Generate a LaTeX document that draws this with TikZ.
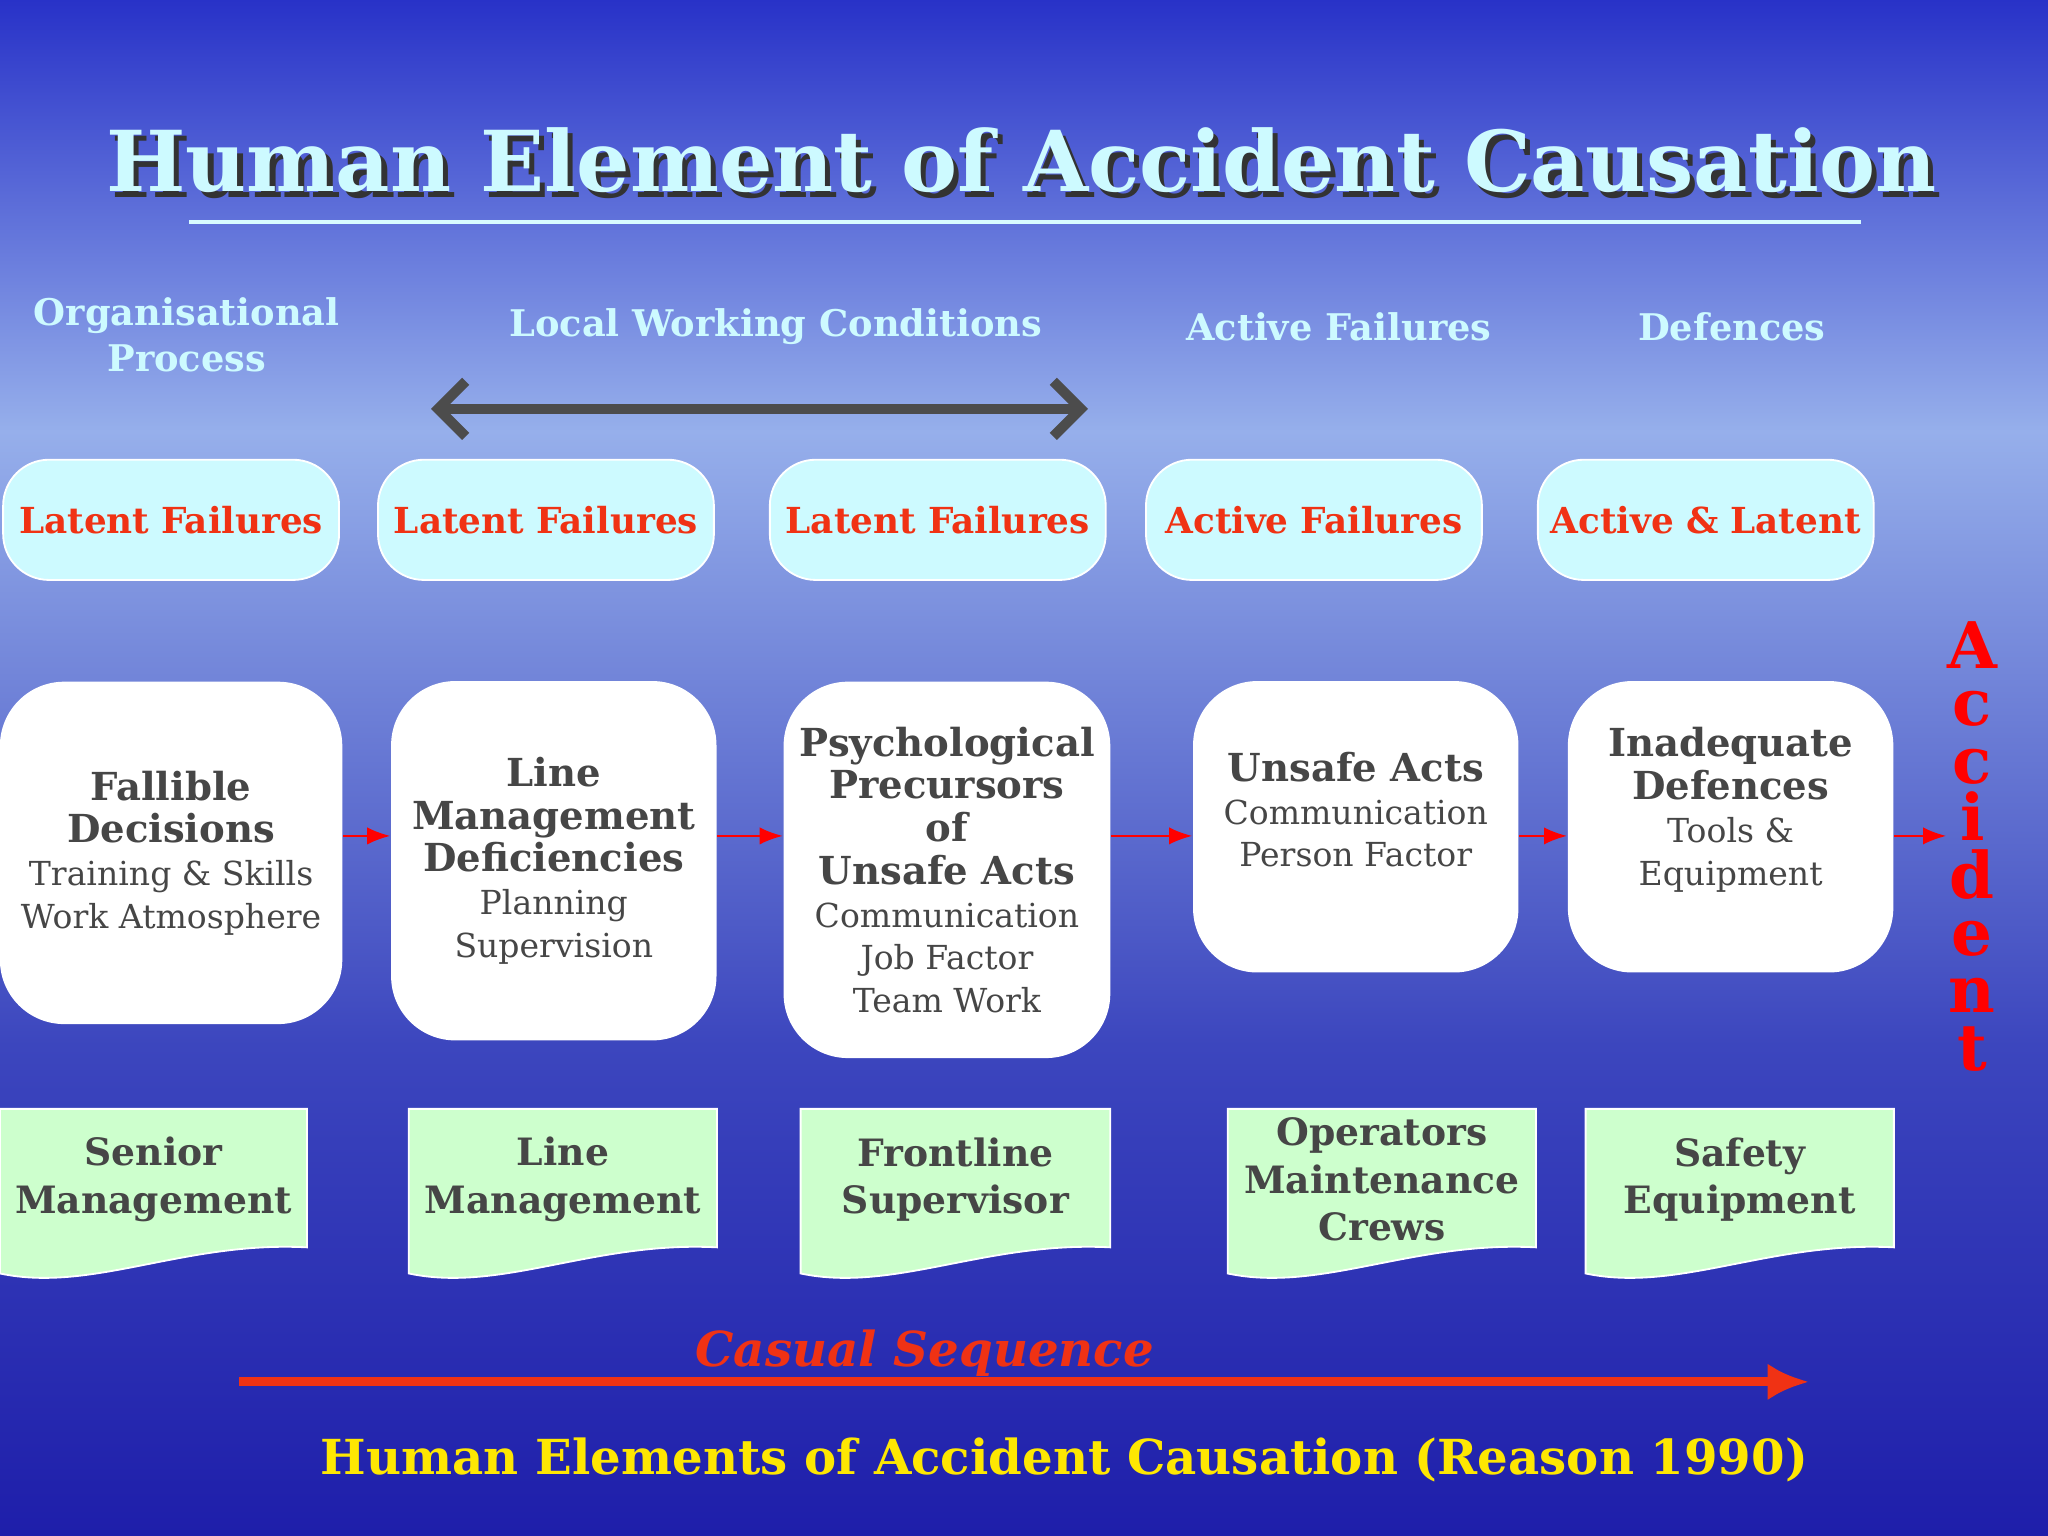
\documentclass[tikz,border=0pt]{standalone}
\usepackage{fontspec}
\setmainfont{DejaVu Serif}
\usetikzlibrary{arrows.meta}
\definecolor{capcyan}{RGB}{205,250,255}
\definecolor{docgreen}{RGB}{205,255,205}
\definecolor{failred}{RGB}{240,50,20}
\definecolor{txtgray}{RGB}{70,70,70}
\newcommand{\bighead}{\bfseries\fontsize{8.4}{9.6}\selectfont}
\newcommand{\smalltxt}{\mdseries\fontsize{7.2}{9.1}\selectfont}
\tikzset{
  capbox/.style={draw=white, fill=capcyan, rounded corners=10pt, minimum height=0.92cm, text width=2.5cm, align=center, inner sep=1pt, font=\bfseries\fontsize{7.8}{9}\selectfont, text=failred},
  mainbox/.style={fill=white, rounded corners=14pt, text=txtgray, align=center, inner sep=1pt, font=\fontsize{7.2}{9.3}\selectfont},
  flow/.style={-{Latex[length=5pt]}, red, thin},
  head/.style={text=capcyan, font=\bfseries\fontsize{8}{10}\selectfont, align=center},
  doclabel/.style={text=txtgray, font=\bfseries\fontsize{8.2}{10.3}\selectfont, align=center}
}
\newcommand{\docshape}[4]{% x1, x2, name, text
  \fill[docgreen, draw=white] (#1,849) -- (#2,849) -- (#2,955)
    .. controls ({#1+0.6*(#2-#1)},950) and ({#1+0.3*(#2-#1)},990) .. (#1,975) -- cycle;
  \node[doclabel] (#3) at ({(#1+#2)/2},903) {#4};}
\begin{document}
\begin{tikzpicture}[x=0.01cm,y=-0.01cm]
\useasboundingbox (0,0) rectangle (1568,1176);

%% Background %%
\shade[top color={rgb,255:red,40;green,50;blue,200}, bottom color={rgb,255:red,150;green,175;blue,235}] (0,0) rectangle (1568,330);
\shade[top color={rgb,255:red,150;green,175;blue,235}, bottom color={rgb,255:red,60;green,70;blue,190}] (0,330) rectangle (1568,800);
\shade[top color={rgb,255:red,60;green,70;blue,190}, bottom color={rgb,255:red,30;green,30;blue,170}] (0,800) rectangle (1568,1176);

%% Title %%
\node[text=black!80, font=\bfseries\fontsize{18.3}{21}\selectfont] at (786,127) {Human Element of Accident Causation};
\node[text=capcyan, font=\bfseries\fontsize{18.3}{21}\selectfont] (title) at (782,123) {Human Element of Accident Causation};
\draw[capcyan!80, line width=1pt] (145,170) -- (1425,170);

%% Headers %%
\node[head] (hOrg) at (143,256) {Organisational\\Process};
\node[head] (hLocal) at (594,250) {Local Working Conditions};
\node[head] (hActive) at (1025,250) {Active Failures};
\node[head] (hDef) at (1326,250) {Defences};
\coordinate (spanL) at (330,313);
\coordinate (spanR) at (833,313);
\draw[{Straight Barb[length=6pt,width=12pt]}-{Straight Barb[length=6pt,width=12pt]}, line width=2.2pt, black!70] (spanL) -- (spanR);

%% Top caps %%
\node[capbox] (c1) at (131,398) {Latent Failures};
\node[capbox] (c2) at (418,398) {Latent Failures};
\node[capbox] (c3) at (718,398) {Latent Failures};
\node[capbox] (c4) at (1006,398) {Active Failures};
\node[capbox] (c5) at (1306,398) {Active \& Latent};

%% Main boxes %%
\node[mainbox, minimum width=2.62cm, minimum height=2.62cm] (b1) at (131,653)
  {\bighead Fallible\\\bighead Decisions\\\smalltxt Training \& Skills\\\smalltxt Work Atmosphere};
\node[mainbox, minimum width=2.49cm, minimum height=2.75cm] (b2) at (424,659)
  {\bighead Line\\\bighead Management\\\bighead Deficiencies\\\smalltxt Planning\\\smalltxt Supervision};
\node[mainbox, minimum width=2.50cm, minimum height=2.88cm] (b3) at (725,666)
  {\bighead Psychological\\\bighead Precursors\\\bighead of\\\bighead Unsafe Acts\\\smalltxt Communication\\\smalltxt Job Factor\\\smalltxt Team Work};
\node[mainbox, minimum width=2.49cm, minimum height=2.23cm] (b4) at (1038,633) {};
\node[text=txtgray, align=center, inner sep=0pt, font=\fontsize{7.2}{9.3}\selectfont] (b4t) at (1038,620)
  {\bighead Unsafe Acts\\\smalltxt Communication\\\smalltxt Person Factor};
\node[mainbox, minimum width=2.49cm, minimum height=2.23cm] (b5) at (1325,633) {};
\node[text=txtgray, align=center, inner sep=0pt, font=\fontsize{7.2}{9.3}\selectfont] (b5t) at (1325,620)
  {\bighead Inadequate\\\bighead Defences\\\smalltxt Tools \&\\\smalltxt Equipment};

\coordinate (acc) at (1490,640);
\draw[flow] (b1.east |- acc) -- (b2.west |- acc);
\draw[flow] (b2.east |- acc) -- (b3.west |- acc);
\draw[flow] (b3.east |- acc) -- (b4.west |- acc);
\draw[flow] (b4.east |- acc) -- (b5.west |- acc);
\draw[flow] (b5.east |- acc) -- (acc);

%% Accident %%
\node[text=red, font=\bfseries\fontsize{14}{12.5}\selectfont, align=center, inner sep=0pt] (accword) at (1510,648)
  {A\\c\\c\\i\\d\\e\\n\\t};

%% Documents %%
\docshape{0}{235}{d1}{Senior\\Management}
\docshape{313}{549}{d2}{Line\\Management}
\docshape{613}{850}{d3}{Frontline\\Supervisor}
\docshape{940}{1176}{d4}{Operators\\Maintenance\\Crews}
\docshape{1214}{1450}{d5}{Safety\\Equipment}

%% Sequence %%
\node[text=failred, font=\bfseries\itshape\fontsize{10.5}{12}\selectfont] (seq) at (708,1036) {Casual Sequence};
\coordinate (seqL) at (183,1058);
\coordinate (seqR) at (1385,1058);
\draw[-{Latex[length=9pt,width=8pt]}, line width=2pt, failred] (seqL) -- (seqR);
\node[text=yellow!90!orange, font=\bfseries\fontsize{10.5}{12}\selectfont] (caption) at (815,1118) {Human Elements of Accident Causation (Reason 1990)};
\end{tikzpicture}
\end{document}
